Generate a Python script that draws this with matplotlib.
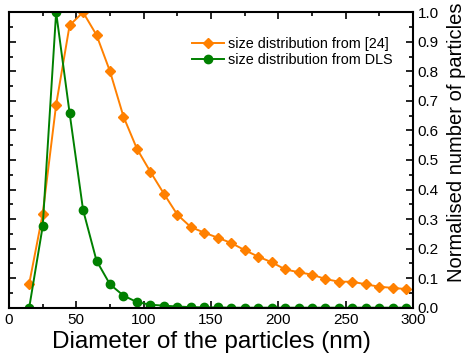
import matplotlib
matplotlib.use("Agg")
import matplotlib.pyplot as plt
from matplotlib.ticker import MultipleLocator

plt.rcParams['font.family'] = ['Liberation Sans', 'DejaVu Sans']

diam = [15, 25, 35, 45, 55, 65, 75, 85, 95, 105, 115, 125, 135, 145, 155, 165,
        175, 185, 195, 205, 215, 225, 235, 245, 255, 265, 275, 285, 295]
ref24 = [0.081, 0.317, 0.687, 0.956, 1.0, 0.923, 0.80, 0.647, 0.538, 0.46, 0.386,
         0.315, 0.273, 0.254, 0.237, 0.219, 0.195, 0.173, 0.154, 0.130, 0.120,
         0.112, 0.097, 0.088, 0.088, 0.079, 0.071, 0.067, 0.063]
dls = [0.0, 0.275, 1.0, 0.659, 0.331, 0.159, 0.079, 0.041, 0.019, 0.010, 0.007,
       0.004, 0.002, 0.001, 0.001, 0.0, 0.0, 0.0, 0.0, 0.0, 0.0, 0.0, 0.0, 0.0,
       0.0, 0.0, 0.0, 0.0, 0.0]
labels = ["size distribution from [24]", "size distribution from DLS"]

fig = plt.figure(figsize=(4.74, 3.61), dpi=100)
ax = fig.add_axes([9/474, 1-307.7/361, (413-9)/474, (307.7-12.3)/361])

ax.plot(diam, ref24, color='#FF8000', marker='D', markersize=5.5, lw=1.4, label=labels[0])
ax.plot(diam, dls, color='#008000', marker='o', markersize=6, lw=1.4, label=labels[1])

ax.set_xlim(0, 300)
ax.set_ylim(0, 1.0)
ax.xaxis.set_major_locator(MultipleLocator(50))
ax.xaxis.set_minor_locator(MultipleLocator(25))
ax.yaxis.set_major_locator(MultipleLocator(0.1))
ax.yaxis.set_minor_locator(MultipleLocator(0.05))
ax.yaxis.set_major_formatter(matplotlib.ticker.FormatStrFormatter('%.1f'))
ax.tick_params(which='both', direction='in', top=True, bottom=True, left=True, right=True,
               labelleft=False, labelright=True, labelsize=11, width=1.2)
ax.tick_params(which='major', length=5)
ax.tick_params(which='minor', length=3)
for s in ax.spines.values():
    s.set_linewidth(1.5)

ax.set_xlabel("Diameter of the particles (nm)", fontsize=17.5, labelpad=3)
ax.yaxis.set_label_position('right')
ax.set_ylabel("Normalised number of particles", fontsize=14.5)
ax.yaxis.set_label_coords((447-9)/404, (307.7-142.5)/295.4)

ax.legend(loc='upper right', bbox_to_anchor=(0.965, 0.935), frameon=False, fontsize=10.4,
          handlelength=2.2, handletextpad=0.3, labelspacing=0.15, borderaxespad=0)

fig.savefig("out.png", dpi=100)
